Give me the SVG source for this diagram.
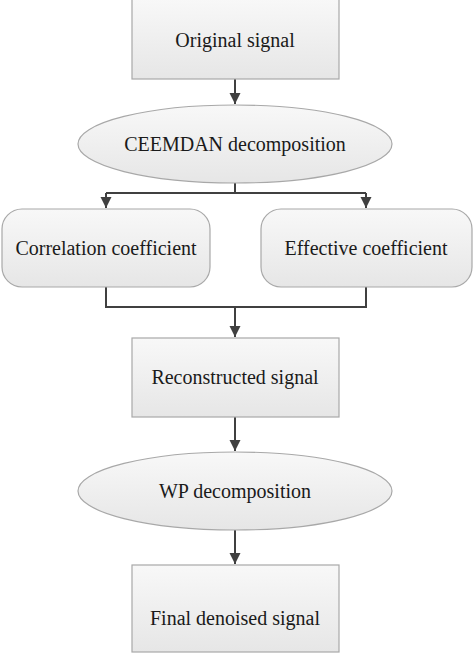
<svg xmlns="http://www.w3.org/2000/svg" width="474" height="655" viewBox="0 0 474 655">
<defs>
<linearGradient id="g" x1="0" y1="0" x2="0" y2="1">
<stop offset="0" stop-color="#f8f8f8"/>
<stop offset="1" stop-color="#e6e6e6"/>
</linearGradient>
<marker id="ah" markerWidth="12" markerHeight="12" refX="11" refY="6" orient="auto" markerUnits="userSpaceOnUse">
<path d="M0,0.5 L11,6 L0,11.5 z" fill="#404040"/>
</marker>
</defs>
<style>
.n{fill:url(#g);stroke:#a8a8a8;stroke-width:1.2}
.t{font-family:"Liberation Serif","Times New Roman",serif;font-size:20px;fill:#1a1a1a;text-anchor:middle}
.c{fill:none;stroke:#404040;stroke-width:2}
</style>
<rect width="474" height="655" fill="#ffffff"/>
<g id="connectors">
<path class="c" d="M235,79 V104" marker-end="url(#ah)"/>
<path class="c" d="M235,183 V193 M106,193 H366"/>
<path class="c" d="M106,193 V208" marker-end="url(#ah)"/>
<path class="c" d="M366,193 V208" marker-end="url(#ah)"/>
<path class="c" d="M106,287 V307 H366 V287"/>
<path class="c" d="M235,307 V337" marker-end="url(#ah)"/>
<path class="c" d="M235,417 V451" marker-end="url(#ah)"/>
<path class="c" d="M235,530 V564" marker-end="url(#ah)"/>
</g>
<g id="original">
<rect class="n" x="132" y="-1" width="207" height="80"/>
<text class="t" x="235" y="47">Original signal</text>
</g>
<g id="ceemdan">
<ellipse class="n" cx="235" cy="144" rx="157" ry="39"/>
<text class="t" x="235" y="151">CEEMDAN decomposition</text>
</g>
<g id="correlation">
<rect class="n" x="2" y="209" width="208" height="78" rx="20" ry="20"/>
<text class="t" x="106" y="255">Correlation coefficient</text>
</g>
<g id="effective">
<rect class="n" x="261" y="209" width="211" height="78" rx="20" ry="20"/>
<text class="t" x="366" y="255">Effective coefficient</text>
</g>
<g id="reconstructed">
<rect class="n" x="132" y="338" width="207" height="79"/>
<text class="t" x="235" y="384">Reconstructed signal</text>
</g>
<g id="wp">
<ellipse class="n" cx="235" cy="491" rx="157" ry="39"/>
<text class="t" x="235" y="498">WP decomposition</text>
</g>
<g id="final">
<rect class="n" x="132" y="565" width="207" height="87"/>
<text class="t" x="235" y="625">Final denoised signal</text>
</g>
</svg>
